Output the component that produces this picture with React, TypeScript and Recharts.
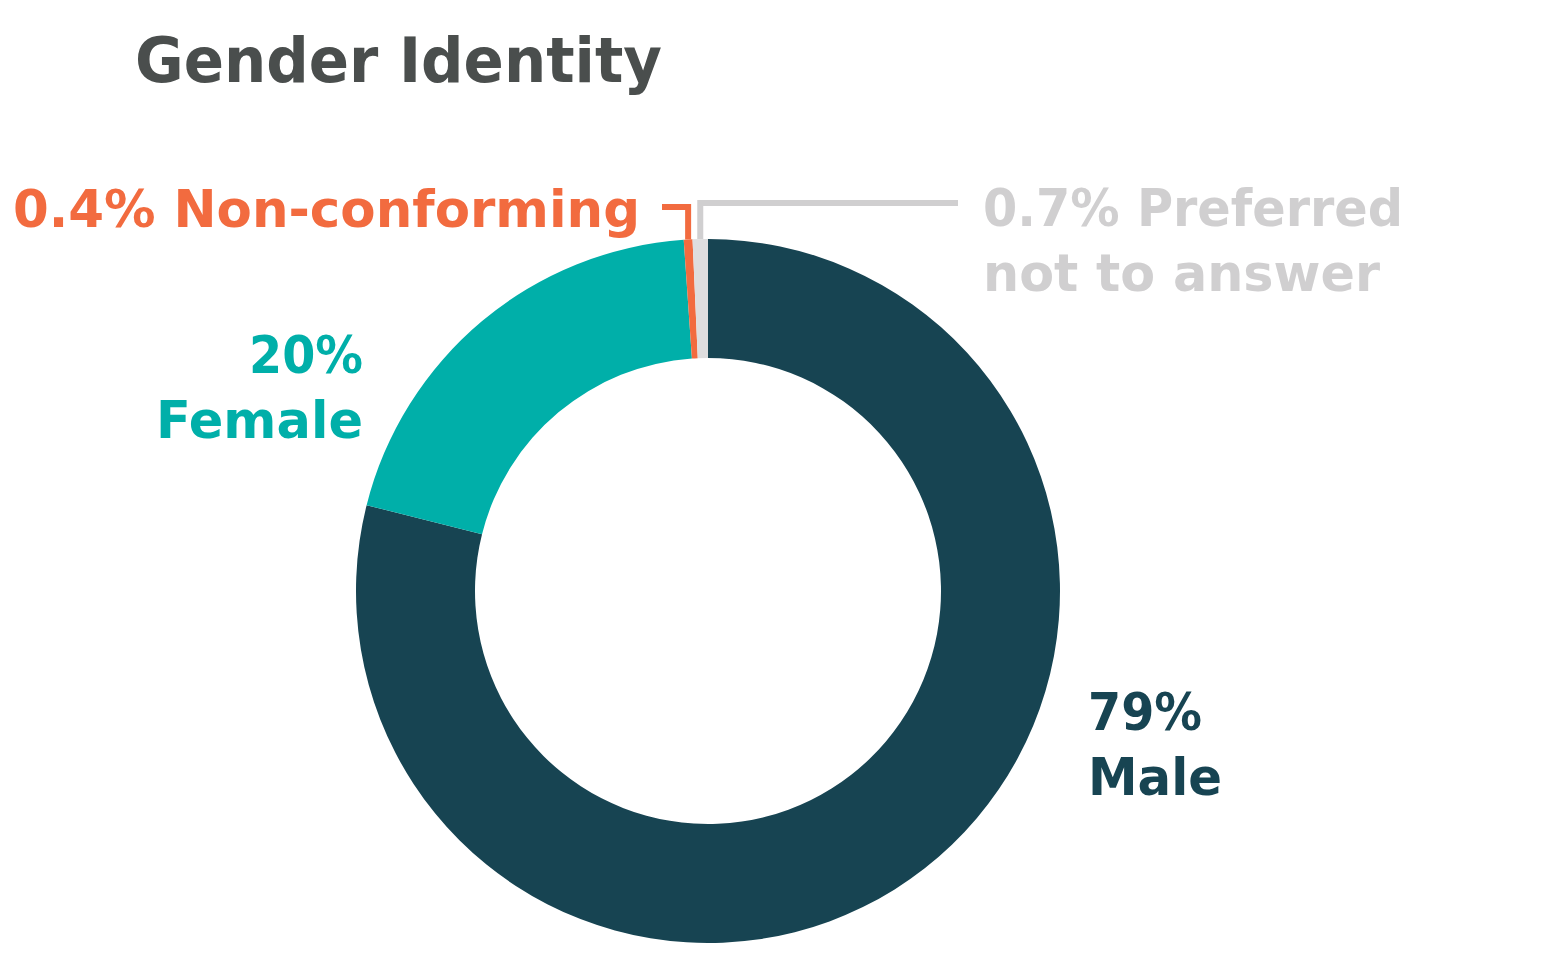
import React from "react";
import { PieChart, Pie, Cell, Customized } from "recharts";

const categories = ["Male", "Female", "Non-conforming", "Preferred not to answer"];
const values = [79, 20, 0.4, 0.7];
const valueLabels = ["79%", "20%", "0.4%", "0.7%"];
const sliceColors = ["#174452", "#00AFA9", "#F26B3F", "#DEDDDE"];
const textColors = ["#174452", "#00AFA9", "#F26B3F", "#D0CFD0"];
const title = "Gender Identity";

const data = categories.map((name, i) => ({ name, value: values[i] }));

const FONT = "'DejaVu Sans', sans-serif";
const RAD = Math.PI / 180;

const T = (p: any) => {
  const { w, children, ...rest } = p;
  return (
    <text
      fontFamily={FONT}
      fontWeight={700}
      fontSize={52}
      textLength={w}
      lengthAdjust="spacingAndGlyphs"
      {...rest}
    >
      {children}
    </text>
  );
};

const renderLabel = (props: any) => {
  const { cx, cy, midAngle, outerRadius, index } = props;
  const color = textColors[index];
  const ax = cx + outerRadius * Math.cos(-midAngle * RAD);
  const ay = cy + outerRadius * Math.sin(-midAngle * RAD);
  if (index === 0) {
    return (
      <g key="l0">
        <T x={cx + 380} y={cy + 139} w={114} fill={color}>{valueLabels[0]}</T>
        <T x={cx + 380} y={cy + 204} w={134} fill={color}>{categories[0]}</T>
      </g>
    );
  }
  if (index === 1) {
    return (
      <g key="l1">
        <T x={cx - 345 - 114} y={cy - 218} w={114} fill={color}>{valueLabels[1]}</T>
        <T x={cx - 345 - 207} y={cy - 153} w={207} fill={color}>{categories[1]}</T>
      </g>
    );
  }
  if (index === 2) {
    const lineY = cy - 384;
    return (
      <g key="l2">
        <polyline
          points={`${cx - 46},${lineY} ${ax},${lineY} ${ax},${ay}`}
          fill="none"
          stroke={color}
          strokeWidth={6}
        />
        <T x={cx - 695} y={cy - 364} w={627} fill={color}>
          {`${valueLabels[2]} ${categories[2]}`}
        </T>
      </g>
    );
  }
  const lineY = cy - 388;
  return (
    <g key="l3">
      <polyline
        points={`${ax},${ay} ${ax},${lineY} ${cx + 250},${lineY}`}
        fill="none"
        stroke={color}
        strokeWidth={6}
      />
      <T x={cx + 275} y={cy - 365} w={420} fill={color}>
        {`${valueLabels[3]} Preferred`}
      </T>
      <T x={cx + 275} y={cy - 300} w={397} fill={color}>
        not to answer
      </T>
    </g>
  );
};

const Title = () => (
  <text
    x={135}
    y={82}
    fontFamily={FONT}
    fontWeight={700}
    fontSize={63}
    fill="#4A4E4D"
    textLength={527}
    lengthAdjust="spacingAndGlyphs"
  >
    {title}
  </text>
);

export default function App() {
  return (
    <div style={{ position: "absolute", left: 0, top: 0, width: 1546, height: 963, background: "#fff" }}>
      <PieChart width={1546} height={963} margin={{ top: 0, right: 0, bottom: 0, left: 0 }}>
        <Customized component={Title} />
        <Pie
          data={data}
          dataKey="value"
          nameKey="name"
          cx={708}
          cy={591}
          innerRadius={233}
          outerRadius={352}
          startAngle={90}
          endAngle={-270}
          stroke="none"
          label={renderLabel}
          labelLine={false}
          isAnimationActive={false}
        >
          {data.map((d, i) => (
            <Cell key={d.name} fill={sliceColors[i]} />
          ))}
        </Pie>
      </PieChart>
    </div>
  );
}
